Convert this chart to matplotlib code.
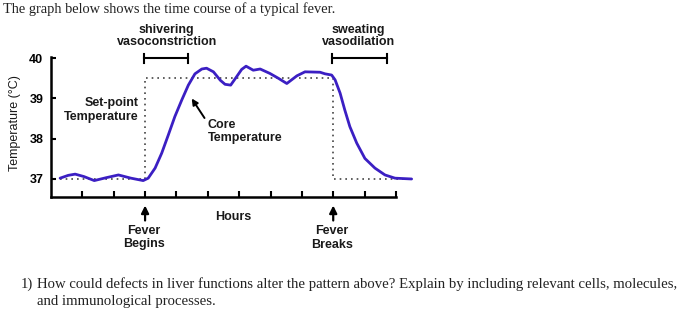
import matplotlib
matplotlib.use("Agg")
import matplotlib.pyplot as plt

# values (hours, deg C)
core_hours = [0.29, 0.55, 0.77, 1.05, 1.38, 1.75, 2.15, 2.55, 2.94, 3.10,
              3.32, 3.53, 3.74, 3.95, 4.17, 4.38, 4.59, 4.81, 4.96, 5.18,
              5.40, 5.55, 5.73, 5.92, 6.08, 6.22, 6.45, 6.67, 6.98, 7.25,
              7.52, 7.84, 8.10, 8.58, 8.74, 8.95, 9.06, 9.22, 9.37, 9.53,
              9.75, 10.01, 10.33, 10.65, 10.97, 11.50]
core_temp = [37.02, 37.09, 37.12, 37.06, 36.96, 37.03, 37.10, 37.02, 36.96,
             37.02, 37.27, 37.64, 38.09, 38.55, 38.96, 39.33, 39.61, 39.73,
             39.75, 39.66, 39.45, 39.35, 39.33, 39.54, 39.72, 39.80, 39.70,
             39.73, 39.62, 39.50, 39.37, 39.56, 39.66, 39.65, 39.61, 39.58,
             39.46, 39.13, 38.71, 38.30, 37.89, 37.51, 37.27, 37.10, 37.02,
             37.00]

setpoint_hours = [0.29, 3.0, 3.0, 9.0, 9.0, 11.55]
setpoint_temp = [37.0, 37.0, 39.5, 39.5, 37.0, 37.0]

hour_ticks = list(range(1, 12))
temp_ticks = [37, 38, 39, 40]

W, H = 689, 322


def fx(px):
    return px / W


def fy(py):
    return 1 - py / H


fig = plt.figure(figsize=(W / 100, H / 100), dpi=100)
fig.patch.set_facecolor("white")

sans = "Liberation Sans"
serif = "Liberation Serif"

# axes placed so that hour 0 sits on the y axis
ax = fig.add_axes([fx(51), fy(197.1), 376.3 / W, 143.0 / H])
ax.set_xlim(0, 12)
ax.set_ylim(36.55, 40.1)

ax.plot(setpoint_hours, setpoint_temp, color="#444444", lw=1.2,
        linestyle=(0, (1, 2.4)), clip_on=False)
ax.plot(core_hours, core_temp, color="#3b1fc3", lw=2.0,
        solid_joinstyle="round", solid_capstyle="round", clip_on=False)

for side in ["top", "right"]:
    ax.spines[side].set_visible(False)
ax.spines["left"].set_bounds(36.55, 40.03)
ax.spines["bottom"].set_bounds(0, 11)
for side in ["left", "bottom"]:
    ax.spines[side].set_linewidth(1.8)

ax.set_xticks(hour_ticks)
ax.set_xticklabels([])
ax.tick_params(axis="x", direction="in", length=4.5, width=1.5)
ax.set_yticks(temp_ticks)
ax.set_yticklabels([str(t) for t in temp_ticks], fontfamily=sans,
                   fontweight="bold", fontsize=9)
ax.tick_params(axis="y", direction="in", length=3.5, width=1.5, pad=5.5)

# bracket bars over the plot
for x0, x1 in [(2.97, 4.37), (8.96, 10.71)]:
    ax.plot([x0, x1], [40.0, 40.0], color="black", lw=1.5, clip_on=False)
    for xc in (x0, x1):
        ax.plot([xc, xc], [39.89, 40.11], color="black", lw=1.5, clip_on=False)

txt = dict(fontfamily=sans, fontweight="bold", fontsize=9, color="#1a1a1a")
fig.text(fx(166), fy(29.5), "shivering", ha="center", va="center", **txt)
fig.text(fx(167.5), fy(42), "vasoconstriction", ha="center", va="center", **txt)
fig.text(fx(358), fy(29.5), "sweating", ha="center", va="center", **txt)
fig.text(fx(359), fy(42), "vasodilation", ha="center", va="center", **txt)

fig.text(fx(138.5), fy(103), "Set-point", ha="right", va="center", **txt)
fig.text(fx(138.5), fy(117), "Temperature", ha="right", va="center", **txt)
fig.text(fx(208), fy(125), "Core", ha="left", va="center", **txt)
fig.text(fx(208), fy(138.5), "Temperature", ha="left", va="center", **txt)
ax.annotate("", xy=(fx(191.7), fy(98.5)), xytext=(fx(204.5), fy(118)),
            xycoords="figure fraction", textcoords="figure fraction",
            arrowprops=dict(arrowstyle="-|>", color="black", lw=1.4,
                            mutation_scale=9, shrinkA=0, shrinkB=0),
            annotation_clip=False)

fig.text(fx(15), fy(123), "Temperature (\u00b0C)", rotation=90, ha="center",
         va="center", fontfamily=sans, fontsize=9, color="#1a1a1a")
fig.text(fx(233), fy(217.5), "Hours", ha="center", va="center", **txt)

for xh, words in [(3, ("Fever", "Begins")), (9, ("Fever", "Breaks"))]:
    ax.annotate("", xy=(xh, fy(205.5)), xytext=(xh, fy(220.5)),
                xycoords=("data", "figure fraction"),
                textcoords=("data", "figure fraction"),
                arrowprops=dict(arrowstyle="-|>", color="black", lw=1.6,
                                mutation_scale=11, shrinkA=0, shrinkB=0),
                annotation_clip=False)
    xp = 51 + xh * 31.36
    fig.text(fx(xp - 1), fy(230.5), words[0], ha="center", va="center", **txt)
    fig.text(fx(xp - 1), fy(244.5), words[1], ha="center", va="center", **txt)

# surrounding worksheet text
fig.text(fx(3), fy(9), "The graph below shows the time course of a typical fever.",
         ha="left", va="center", fontfamily=serif, fontsize=10.4, color="#222222")
fig.text(fx(21), fy(284), "1)", ha="left", va="center", fontfamily=serif,
         fontsize=10.6, color="#222222")
fig.text(fx(37), fy(284),
         "How could defects in liver functions alter the pattern above? "
         "Explain by including relevant cells, molecules,",
         ha="left", va="center", fontfamily=serif, fontsize=10.6, color="#222222")
fig.text(fx(37), fy(302), "and immunological processes.", ha="left",
         va="center", fontfamily=serif, fontsize=10.6, color="#222222")

fig.savefig("out.png", dpi=100, facecolor="white")
